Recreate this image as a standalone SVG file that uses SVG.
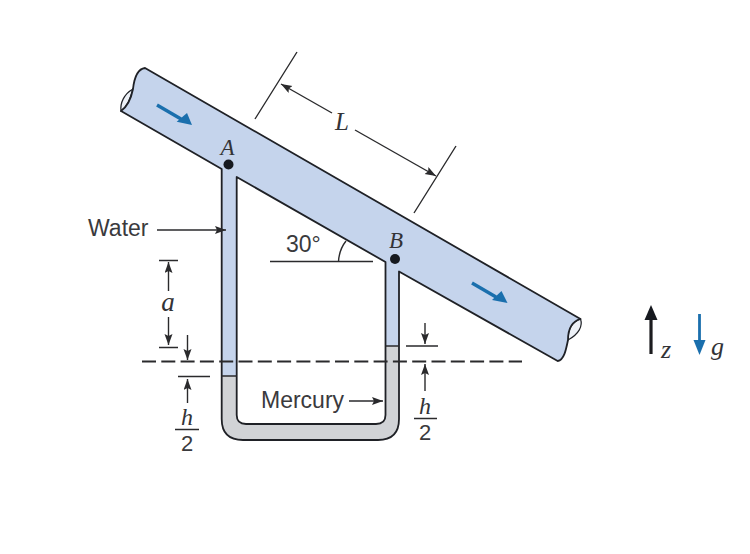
<svg xmlns="http://www.w3.org/2000/svg" width="750" height="554" viewBox="0 0 750 554">
<style>
.o{fill:none;stroke:#1f2126;stroke-width:1.8;stroke-linejoin:round}
.t{fill:#edf1f7;stroke:#1f2126;stroke-width:1.2}
.d{fill:none;stroke:#2a2a2c;stroke-width:1.4}
.s{font-family:"Liberation Sans",Arial,sans-serif;font-size:23px;fill:#3a3a3d}
.i{font-family:"Liberation Serif","Times New Roman",serif;font-style:italic;fill:#333336}
.n{fill:#16191f}
.b{fill:none;stroke:#1a6fad;stroke-width:3.4}
.bh{fill:#1a6fad}
</style>
<defs>
<marker id="ah" markerUnits="userSpaceOnUse" markerWidth="12" markerHeight="10" refX="11" refY="4" orient="auto-start-reverse"><path d="M0 0L11 4L0 8L2 4Z" fill="#2a2a2c"/></marker>
</defs>
<g id="mercury">
<path d="M221.700 376V419Q221.700 440 243 440H378Q399 440 399 419V346H385.500V415Q385.500 424 376 424H246Q236.700 424 236.700 415V376Z" fill="#d1d3d6"/>
</g>
<g id="pipe">
<path class="t" d="M121 111C120 103 124 94 133 89C130 99 128 106 121 111Z"/>
<path class="t" d="M580.500 319C583 326 579 334 568 340C568 329 572 322 580.500 319Z"/>
<path d="M145 68L580.500 319C573 321 568 328 568 340C566 350 564 360 557.700 361L399 271.500V346H385.500V262L236.700 177V376H221.700V169L121 111C128 106 131 99 133 89C134 80 137 69 145 68Z" fill="#c5d4ec"/>
<path class="o" d="M121 111C128 106 131 99 133 89C134 80 137 69 145 68L580.500 319C573 321 568 328 568 340C566 350 564 360 557.700 361L399 271.500V419Q399 440 378 440H243Q221.700 440 221.700 419V169Z"/>
<path class="o" d="M385.500 262L236.700 177V415Q236.700 424 246 424H376Q385.500 424 385.500 415Z"/>
<path class="d" d="M221.700 376H236.700M385.500 346H399"/>
</g>
<g id="pointA"><circle class="n" cx="228.500" cy="164.500" r="5"/><text class="i" x="227.500" y="155" text-anchor="middle" font-size="23">A</text></g>
<g id="pointB"><circle class="n" cx="395" cy="259" r="5"/><text class="i" x="396" y="248" text-anchor="middle" font-size="23">B</text></g>
<g id="flow-arrows">
<path class="b" d="M157 105L181 119"/><path class="bh" d="M192 125L176.700 121.700L187 113Z"/>
<path class="b" d="M472 283L496 297"/><path class="bh" d="M507.500 303L492 300L501.500 291Z"/>
</g>
<g id="connectors">
<path class="d" d="M297 52L255 119M456 146L414 213"/>
<path class="d" marker-start="url(#ah)" d="M281 84L332 113"/>
<path class="d" marker-end="url(#ah)" d="M355 130L436 176"/>
<path class="d" marker-end="url(#ah)" d="M157 230H226"/>
<path class="d" d="M270 261.500H373M338.500 261.500C339 253 342 246 346 241"/>
<path class="d" d="M159 260.500H178M159 347.500H178M178 376.500H210M406 346H438"/>
<path class="d" marker-end="url(#ah)" d="M168.500 291V262"/>
<path class="d" marker-end="url(#ah)" d="M168.500 317V345"/>
<path class="d" marker-end="url(#ah)" d="M187.500 335V360"/>
<path class="d" marker-end="url(#ah)" d="M187.500 403V379"/>
<path class="d" marker-end="url(#ah)" d="M425 323V344"/>
<path class="d" marker-end="url(#ah)" d="M425 391V364"/>
<path class="d" marker-end="url(#ah)" d="M349 401H383"/>
<path class="d" d="M175 429.500H199M414 418.500H437"/>
<path fill="none" stroke="#2a2a2c" stroke-width="1.800" stroke-dasharray="14 5.300" d="M142 361.500H522"/>
</g>
<g id="labels">
<text class="s" x="88" y="236">Water</text>
<text class="s" x="286" y="252">30°</text>
<text class="s" x="261" y="408">Mercury</text>
<text class="i" x="342" y="130" text-anchor="middle" font-size="25">L</text>
<text class="i" x="168" y="311" text-anchor="middle" font-size="27">a</text>
<text class="i" x="187" y="425" text-anchor="middle" font-size="24">h</text>
<text class="s" x="187" y="451" text-anchor="middle" style="font-size:22px">2</text>
<text class="i" x="425" y="414" text-anchor="middle" font-size="24">h</text>
<text class="s" x="425" y="440" text-anchor="middle" style="font-size:22px">2</text>
</g>
<g id="legend">
<path d="M651 354V318" fill="none" stroke="#1c1c1f" stroke-width="3.200"/><path class="n" d="M651 305L657.500 320H644.500Z"/>
<text class="i" x="661" y="358" font-size="26">z</text>
<path d="M699.500 314V345" fill="none" stroke="#1a6fad" stroke-width="2.800"/><path class="bh" d="M699.500 355L693.500 340H705.500Z"/>
<text class="i" x="711" y="355" font-size="26">g</text>
</g>
</svg>
